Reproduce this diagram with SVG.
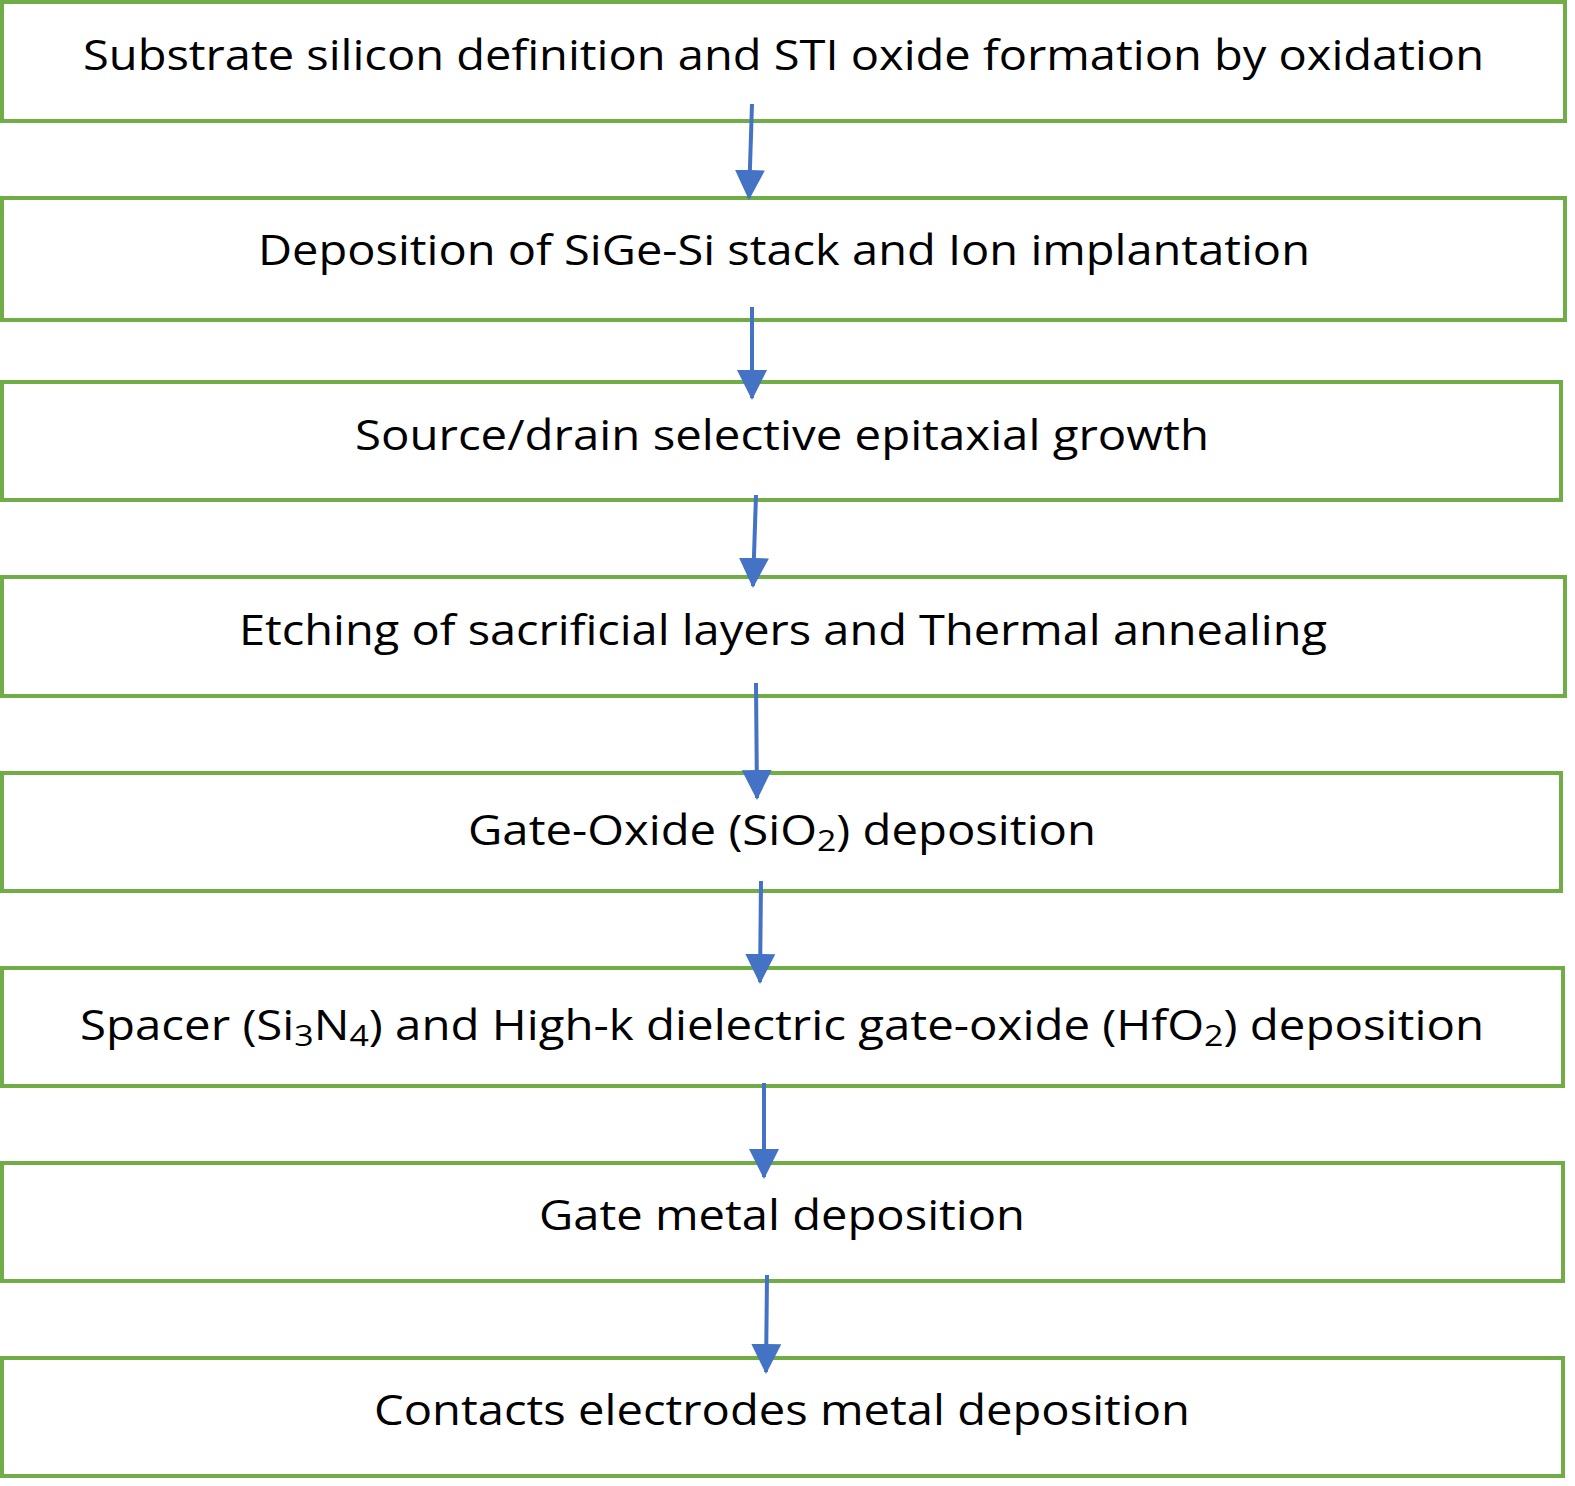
<svg xmlns="http://www.w3.org/2000/svg" width="1575" height="1486" viewBox="0 0 1575 1486">
<style>
.b{fill:#fff;stroke:#70ad47;stroke-width:4}
.t{font-family:"Open Sans","Noto Sans",sans-serif;font-size:42px;fill:#000}
.s{font-size:30px}
.c{stroke:#4472c4;stroke-width:4;fill:none}
</style>
<defs>
<marker id="m" markerWidth="32" markerHeight="32" refX="28" refY="16" orient="auto" markerUnits="userSpaceOnUse"><path d="M0,1L30,16L0,31z" fill="#4472c4"/></marker></defs>
<rect width="1575" height="1486" fill="#fff"/>
<g id="n1"><rect class="b" x="2" y="2" width="1563" height="119"/><text class="t" x="83" y="70" textLength="1401" lengthAdjust="spacingAndGlyphs">Substrate silicon definition and STI oxide formation by oxidation</text></g>
<g id="n2"><rect class="b" x="2" y="198" width="1563" height="122"/><text class="t" x="258" y="265" textLength="1052" lengthAdjust="spacingAndGlyphs">Deposition of SiGe-Si stack and Ion implantation</text></g>
<g id="n3"><rect class="b" x="2" y="382" width="1559" height="118"/><text class="t" x="355" y="450" textLength="854" lengthAdjust="spacingAndGlyphs">Source/drain selective epitaxial growth</text></g>
<g id="n4"><rect class="b" x="2" y="577" width="1563" height="119"/><text class="t" x="239" y="645" textLength="1088" lengthAdjust="spacingAndGlyphs">Etching of sacrificial layers and Thermal annealing</text></g>
<g id="n5"><rect class="b" x="2" y="773" width="1559" height="118"/><text class="t" x="468" y="845" textLength="628" lengthAdjust="spacingAndGlyphs">Gate-Oxide (SiO<tspan class="s" dy="6">2</tspan><tspan dy="-6">) deposition</tspan></text></g>
<g id="n6"><rect class="b" x="2" y="968" width="1561" height="118"/><text class="t" x="80" y="1040" textLength="1404" lengthAdjust="spacingAndGlyphs">Spacer (Si<tspan class="s" dy="6">3</tspan><tspan dy="-6">N</tspan><tspan class="s" dy="6">4</tspan><tspan dy="-6">) and High-k dielectric gate-oxide (HfO</tspan><tspan class="s" dy="6">2</tspan><tspan dy="-6">) deposition</tspan></text></g>
<g id="n7"><rect class="b" x="2" y="1163" width="1561" height="118"/><text class="t" x="539" y="1230" textLength="486" lengthAdjust="spacingAndGlyphs">Gate metal deposition</text></g>
<g id="n8"><rect class="b" x="2" y="1358" width="1561" height="118"/><text class="t" x="374" y="1425" textLength="816" lengthAdjust="spacingAndGlyphs">Contacts electrodes metal deposition</text></g>
<g id="connectors">
<line class="c" x1="752" y1="104" x2="749" y2="198" marker-end="url(#m)"/>
<line class="c" x1="752" y1="307" x2="752" y2="398" marker-end="url(#m)"/>
<line class="c" x1="756" y1="495" x2="753" y2="586" marker-end="url(#m)"/>
<line class="c" x1="756" y1="683" x2="757" y2="798" marker-end="url(#m)"/>
<line class="c" x1="761" y1="881" x2="760" y2="982" marker-end="url(#m)"/>
<line class="c" x1="764" y1="1083" x2="764" y2="1177" marker-end="url(#m)"/>
<line class="c" x1="767" y1="1275" x2="766" y2="1372" marker-end="url(#m)"/>
</g>
</svg>
